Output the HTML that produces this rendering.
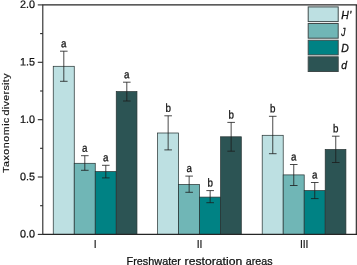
<!DOCTYPE html>
<html><head><meta charset="utf-8"><title>Taxonomic diversity</title>
<style>html,body{margin:0;padding:0;background:#fff}svg{display:block}text{font-family:"Liberation Sans",Arial,sans-serif;fill:#111;stroke:#111;stroke-width:0.3px}</style></head><body>
<svg width="357" height="265" viewBox="0 0 357 265">
<rect width="357" height="265" fill="#fff"/>
<rect x="53.25" y="66.3" width="21.00" height="168.1" fill="#bde0e2" stroke="#263232" stroke-width="0.72"/>
<rect x="74.25" y="163.3" width="21.00" height="71.1" fill="#70b6b6" stroke="#263232" stroke-width="0.72"/>
<rect x="95.25" y="171.6" width="21.00" height="62.8" fill="#008284" stroke="#263232" stroke-width="0.72"/>
<rect x="116.25" y="91.6" width="20.70" height="142.8" fill="#2c5454" stroke="#263232" stroke-width="0.72"/>
<rect x="157.60" y="133.0" width="21.00" height="101.4" fill="#bde0e2" stroke="#263232" stroke-width="0.72"/>
<rect x="178.60" y="184.5" width="21.00" height="49.9" fill="#70b6b6" stroke="#263232" stroke-width="0.72"/>
<rect x="199.60" y="197.1" width="21.00" height="37.3" fill="#008284" stroke="#263232" stroke-width="0.72"/>
<rect x="220.60" y="136.8" width="20.70" height="97.6" fill="#2c5454" stroke="#263232" stroke-width="0.72"/>
<rect x="262.20" y="135.3" width="21.00" height="99.1" fill="#bde0e2" stroke="#263232" stroke-width="0.72"/>
<rect x="283.20" y="174.9" width="21.00" height="59.5" fill="#70b6b6" stroke="#263232" stroke-width="0.72"/>
<rect x="304.20" y="190.6" width="21.00" height="43.8" fill="#008284" stroke="#263232" stroke-width="0.72"/>
<rect x="325.20" y="149.5" width="20.70" height="84.9" fill="#2c5454" stroke="#263232" stroke-width="0.72"/>
<path d="M63.80 51.2V81.3M60.00 51.2H67.60M60.00 81.3H67.60" stroke="#1c1c1c" stroke-width="0.8" fill="none"/>
<text transform="translate(63.80 47.2) scale(0.86 1) rotate(0.03)" font-size="11.4" text-anchor="middle" style="stroke-width:0.27px">a</text>
<path d="M84.80 155.7V170.3M81.00 155.7H88.60M81.00 170.3H88.60" stroke="#1c1c1c" stroke-width="0.8" fill="none"/>
<text transform="translate(84.80 151.7) scale(0.86 1) rotate(0.03)" font-size="11.4" text-anchor="middle" style="stroke-width:0.27px">a</text>
<path d="M105.80 165.3V177.9M102.00 165.3H109.60M102.00 177.9H109.60" stroke="#1c1c1c" stroke-width="0.8" fill="none"/>
<text transform="translate(105.80 161.3) scale(0.86 1) rotate(0.03)" font-size="11.4" text-anchor="middle" style="stroke-width:0.27px">a</text>
<path d="M126.80 82.2V101.0M123.00 82.2H130.60M123.00 101.0H130.60" stroke="#1c1c1c" stroke-width="0.8" fill="none"/>
<text transform="translate(126.80 78.2) scale(0.86 1) rotate(0.03)" font-size="11.4" text-anchor="middle" style="stroke-width:0.27px">a</text>
<path d="M168.15 115.8V149.9M164.35 115.8H171.95M164.35 149.9H171.95" stroke="#1c1c1c" stroke-width="0.8" fill="none"/>
<text transform="translate(168.15 111.8) scale(0.86 1) rotate(0.03)" font-size="11.4" text-anchor="middle" style="stroke-width:0.27px">b</text>
<path d="M189.15 176.1V192.3M185.35 176.1H192.95M185.35 192.3H192.95" stroke="#1c1c1c" stroke-width="0.8" fill="none"/>
<text transform="translate(189.15 172.1) scale(0.86 1) rotate(0.03)" font-size="11.4" text-anchor="middle" style="stroke-width:0.27px">a</text>
<path d="M210.15 190.6V202.7M206.35 190.6H213.95M206.35 202.7H213.95" stroke="#1c1c1c" stroke-width="0.8" fill="none"/>
<text transform="translate(210.15 186.6) scale(0.86 1) rotate(0.03)" font-size="11.4" text-anchor="middle" style="stroke-width:0.27px">b</text>
<path d="M231.15 122.4V151.2M227.35 122.4H234.95M227.35 151.2H234.95" stroke="#1c1c1c" stroke-width="0.8" fill="none"/>
<text transform="translate(231.15 118.4) scale(0.86 1) rotate(0.03)" font-size="11.4" text-anchor="middle" style="stroke-width:0.27px">b</text>
<path d="M272.75 116.3V153.7M268.95 116.3H276.55M268.95 153.7H276.55" stroke="#1c1c1c" stroke-width="0.8" fill="none"/>
<text transform="translate(272.75 112.3) scale(0.86 1) rotate(0.03)" font-size="11.4" text-anchor="middle" style="stroke-width:0.27px">b</text>
<path d="M293.75 164.5V185.5M289.95 164.5H297.55M289.95 185.5H297.55" stroke="#1c1c1c" stroke-width="0.8" fill="none"/>
<text transform="translate(293.75 160.5) scale(0.86 1) rotate(0.03)" font-size="11.4" text-anchor="middle" style="stroke-width:0.27px">a</text>
<path d="M314.75 182.5V198.6M310.95 182.5H318.55M310.95 198.6H318.55" stroke="#1c1c1c" stroke-width="0.8" fill="none"/>
<text transform="translate(314.75 178.5) scale(0.86 1) rotate(0.03)" font-size="11.4" text-anchor="middle" style="stroke-width:0.27px">a</text>
<path d="M335.75 136.2V162.5M331.95 136.2H339.55M331.95 162.5H339.55" stroke="#1c1c1c" stroke-width="0.8" fill="none"/>
<text transform="translate(335.75 132.2) scale(0.86 1) rotate(0.03)" font-size="11.4" text-anchor="middle" style="stroke-width:0.27px">b</text>
<path d="M42.8 4.3500000000000005V234.95000000000002M42.25 234.4H357M42.25 4.9H357" fill="none" stroke="#262626" stroke-width="1.1"/>
<path d="M356.3 4.9V234.4" fill="none" stroke="#1e1e1e" stroke-width="1.1"/>
<path d="M37.8 234.4H42.8" stroke="#2a2a2a" stroke-width="1.1"/>
<text transform="translate(34.9 237.6) rotate(0.03)" font-size="10.8" text-anchor="end" style="stroke-width:0.22px">0.0</text>
<path d="M40.1 205.7H42.8" stroke="#2a2a2a" stroke-width="1.1"/>
<path d="M37.8 177.0H42.8" stroke="#2a2a2a" stroke-width="1.1"/>
<text transform="translate(34.9 180.2) rotate(0.03)" font-size="10.8" text-anchor="end" style="stroke-width:0.22px">0.5</text>
<path d="M40.1 148.3H42.8" stroke="#2a2a2a" stroke-width="1.1"/>
<path d="M37.8 119.7H42.8" stroke="#2a2a2a" stroke-width="1.1"/>
<text transform="translate(34.9 122.9) rotate(0.03)" font-size="10.8" text-anchor="end" style="stroke-width:0.22px">1.0</text>
<path d="M40.1 91.0H42.8" stroke="#2a2a2a" stroke-width="1.1"/>
<path d="M37.8 62.3H42.8" stroke="#2a2a2a" stroke-width="1.1"/>
<text transform="translate(34.9 65.5) rotate(0.03)" font-size="10.8" text-anchor="end" style="stroke-width:0.22px">1.5</text>
<path d="M40.1 33.6H42.8" stroke="#2a2a2a" stroke-width="1.1"/>
<path d="M37.8 4.9H42.8" stroke="#2a2a2a" stroke-width="1.1"/>
<text transform="translate(34.9 8.1) rotate(0.03)" font-size="10.8" text-anchor="end" style="stroke-width:0.22px">2.0</text>
<text x="95.2" y="247.6" font-size="10.4" letter-spacing="-0.1" text-anchor="middle" style="stroke-width:0.15px">I</text>
<text x="199.6" y="247.6" font-size="10.4" letter-spacing="-0.1" text-anchor="middle" style="stroke-width:0.15px">II</text>
<text x="304.2" y="247.6" font-size="10.4" letter-spacing="-0.1" text-anchor="middle" style="stroke-width:0.15px">III</text>
<text y="264.6" font-size="11.1" style="stroke-width:0.25px"><tspan x="126.6" textLength="54.3" lengthAdjust="spacingAndGlyphs">Freshwater</tspan> <tspan x="184.6" textLength="57.6" lengthAdjust="spacingAndGlyphs">restoration</tspan> <tspan x="245.8" textLength="26.8" lengthAdjust="spacingAndGlyphs">areas</tspan></text>
<text transform="translate(8.5 172.9) rotate(-90) scale(1 0.9)" font-size="10.6" style="stroke-width:0.18px"><tspan x="0" textLength="55.3" lengthAdjust="spacing">Taxonomic</tspan> <tspan x="57.4" textLength="42" lengthAdjust="spacing">diversity</tspan></text>
<rect x="308.2" y="6.9" width="30" height="14.7" fill="#bde0e2" stroke="#3f4a4a" stroke-width="1"/>
<text transform="translate(341.2 18.7) scale(1 1)" font-size="10.4" font-style="italic" letter-spacing="0.5">H'</text>
<rect x="308.2" y="23.5" width="30" height="14.7" fill="#70b6b6" stroke="#3f4a4a" stroke-width="1"/>
<text transform="translate(341.2 36.1) scale(0.8 1)" font-size="10.4" font-style="italic" letter-spacing="0.5">J</text>
<rect x="308.2" y="40.2" width="30" height="14.7" fill="#008284" stroke="#3f4a4a" stroke-width="1"/>
<text transform="translate(341.2 52.0) scale(1 1)" font-size="10.4" font-style="italic" letter-spacing="0.5">D</text>
<rect x="308.2" y="56.8" width="30" height="14.7" fill="#2c5454" stroke="#3f4a4a" stroke-width="1"/>
<text transform="translate(341.2 68.6) scale(1 1)" font-size="10.4" font-style="italic" letter-spacing="0.5">d</text>
</svg></body></html>
